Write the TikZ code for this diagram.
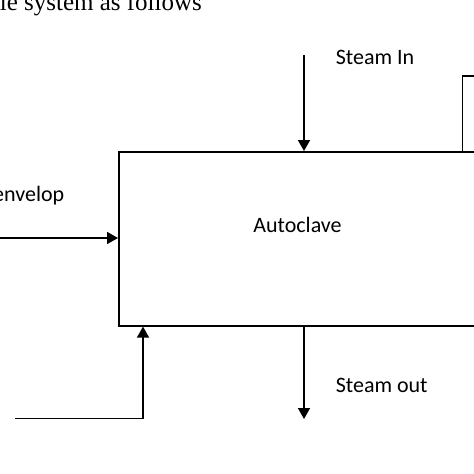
\documentclass[tikz,border=0pt]{standalone}
\usepackage{fontspec}
\setmainfont{Carlito}
\newfontfamily\captionfont{Liberation Serif}
\usetikzlibrary{arrows.meta, positioning}

\begin{document}
\begin{tikzpicture}[x=1pt, y=-1pt, line width=1.6pt,
	flow/.style={-{Triangle[length=11pt, width=12pt]}},
	lbl/.style={font=\fontsize{22}{26}\selectfont, inner sep=0pt},
	capt/.style={font=\captionfont\fontsize{25}{30}\selectfont, inner sep=0pt}]
	\useasboundingbox (0,0) rectangle (474,474);
	\clip (0,0) rectangle (474,474);
	
	\node[capt, anchor=base west] (caption) at (-1,10) {le system as follows};
	
	% the vessel
	\node[draw, anchor=north west, minimum width=360pt, minimum height=174pt, inner sep=0pt] (autoclave) at (118,151) {};
	\node[lbl, anchor=base] (autolabel) at (297.5,232) {Autoclave};
	
	% steam lines
	\coordinate (steamin) at (304,55);
	\draw[flow] (steamin) -- (steamin |- autoclave.north);
	\node[lbl, anchor=base west] (steaminlabel) at (335,64) {Steam In};
	
	\coordinate (steamout) at (304,419);
	\draw[flow] (steamout |- autoclave.south) -- (steamout);
	\node[lbl, anchor=base west] (steamoutlabel) at (335,392) {Steam out};
	
	% left feeds
	\coordinate (envin) at (-5,238);
	\draw[flow] (envin) -- (envin -| autoclave.west);
	\node[lbl, anchor=base east] (envlabel) at (65,201) {envelop};
	
	\coordinate (lowin) at (15,418.5);
	\coordinate (lowturn) at (143,418.5);
	\draw[flow] (lowin) -- (lowturn) -- (lowturn |- autoclave.south);
	
	% right outlet
	\coordinate (rightout) at (480,76);
	\coordinate (rightturn) at (462.5,76);
	\draw (rightout) -- (rightturn) -- (rightturn |- autoclave.north);
\end{tikzpicture}
\end{document}
